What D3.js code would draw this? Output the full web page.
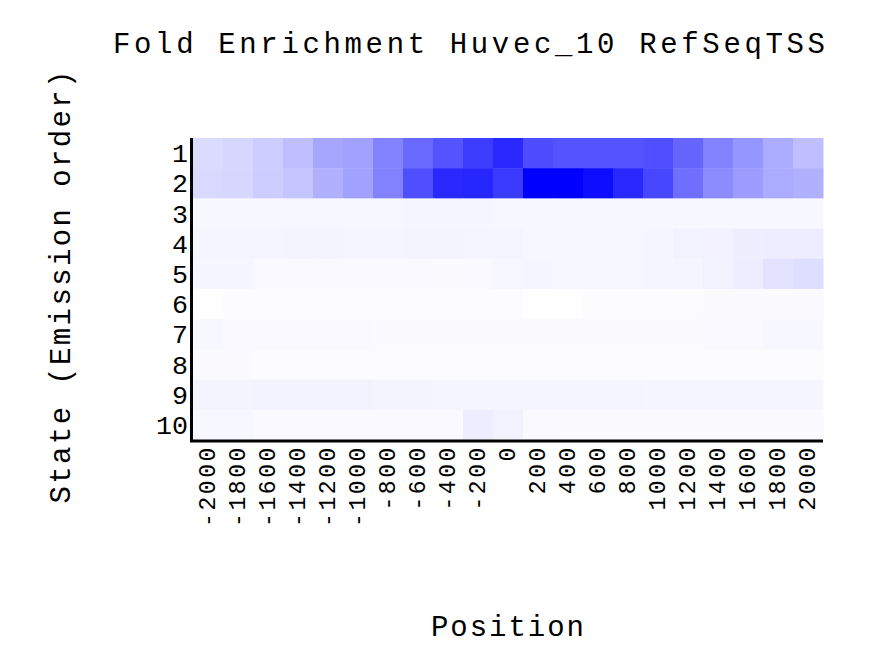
<!DOCTYPE html>
<html>
<head>
<meta charset="utf-8">
<script src="https://cdn.jsdelivr.net/npm/d3@7"></script>
<style>
  html, body { margin: 0; padding: 0; background: #fff; }
  svg { display: block; }
  text { font-family: "Liberation Mono", "DejaVu Sans Mono", monospace; fill: #000; }
</style>
</head>
<body>
<svg id="chart" width="891" height="655"></svg>
<script>
// ---- data ----
const title = "Fold Enrichment Huvec_10 RefSeqTSS";
const xLabel = "Position";
const yLabel = "State (Emission order)";
const positions = [-2000,-1800,-1600,-1400,-1200,-1000,-800,-600,-400,-200,0,200,400,600,800,1000,1200,1400,1600,1800,2000];
const states = [1,2,3,4,5,6,7,8,9,10];
// relative enrichment (0 = white, 100 = full blue), one array per state
const state1  = [14,16,20,25,35,37,49,59,67,76,84,70,67,67,67,69,60,49,41,33,25];
const state2  = [15,16,20,23,31,37,49,69,84,85,77,100,100,95,84,72,57,45,39,33,31];
const state3  = [3,3,3,3,3,3,3,3.5,3.5,3.5,3,3,3,3,3,3,3,3,3,3,3];
const state4  = [4,4,4,4.5,4.5,4,4,4.5,4.5,4,4,3,3,3,3,3.5,5,5.5,6.5,7,7];
const state5  = [3.5,3.5,2.5,2.5,2.5,2.5,2.5,2.5,2,2.5,3,3.5,3,3,3,3.5,4,5,7,11,13];
const state6  = [0.5,1,1,1,1,1,1,1,1,1,1,0.5,0.5,1,1,1,1,1.5,1.5,2,2];
const state7  = [3,2.5,2.5,2.5,2.5,2.5,2,2,2,2,2,1.5,1.5,1.5,1.5,2,2,2.5,2.5,3,3];
const state8  = [1.5,1.5,1,1,1,1,1,1,1,1,1,1,1,1,1,1,1,1,1,1,1];
const state9  = [4.5,4.5,5,5,5,5,4.5,4.5,4,4,4,4,4,4,4,3.5,3.5,3.5,3.5,3.5,3.5];
const state10 = [3,3,2.5,2.5,2.5,2.5,2.5,2.5,2.5,7,5,2.5,2,2,2,2,2,2,2,2,2];
const values = [state1,state2,state3,state4,state5,state6,state7,state8,state9,state10];

// ---- layout ----
const svg = d3.select("#chart");
const mLeft = 193, mRight = 823, mTop = 138, mBottom = 440;

const x = d3.scaleBand().domain(positions).range([mLeft, mRight]).padding(0);
const y = d3.scaleBand().domain(states).range([mTop, mBottom]).padding(0);
const color = d3.scaleLinear().domain([0, 100]).range(["#ffffff", "#0000ff"]);

const cells = [];
values.forEach((row, i) => row.forEach((v, j) => cells.push({s: states[i], p: positions[j], v})));

svg.append("g").selectAll("rect").data(cells).join("rect")
  .attr("x", d => x(d.p))
  .attr("y", d => y(d.s))
  .attr("width", x.bandwidth() + 0.5)
  .attr("height", y.bandwidth() + 0.5)
  .attr("fill", d => color(d.v));

// axes lines
svg.append("line").attr("x1", 191.5).attr("x2", 191.5).attr("y1", mTop).attr("y2", mBottom + 2)
  .attr("stroke", "#000").attr("stroke-width", 3);
svg.append("line").attr("x1", 190).attr("x2", mRight).attr("y1", mBottom + 1).attr("y2", mBottom + 1)
  .attr("stroke", "#000").attr("stroke-width", 3);

// y tick labels
svg.append("g").selectAll("text").data(states).join("text")
  .attr("x", 188)
  .attr("y", d => y(d) + y.bandwidth() / 2 + 9)
  .attr("text-anchor", "end")
  .attr("font-size", 25)
  .attr("textLength", d => String(d).length * 16)
  .attr("lengthAdjust", "spacingAndGlyphs")
  .text(d => d);

// x tick labels (rotated)
svg.append("g").selectAll("text").data(positions).join("text")
  .attr("transform", d => `translate(${x(d) + x.bandwidth() / 2 + 7},445) rotate(-90)`)
  .attr("text-anchor", "end")
  .attr("font-size", 23)
  .attr("letter-spacing", 2.6)
  .text(d => d);

// title
svg.append("text")
  .attr("x", 469).attr("y", 53)
  .attr("text-anchor", "middle")
  .attr("font-size", 29)
  .attr("textLength", 712).attr("lengthAdjust", "spacing")
  .text(title);

// x label
svg.append("text")
  .attr("x", 507.5).attr("y", 636)
  .attr("text-anchor", "middle")
  .attr("font-size", 29)
  .attr("textLength", 153).attr("lengthAdjust", "spacing")
  .text(xLabel);

// y label
svg.append("text")
  .attr("transform", "translate(70,287) rotate(-90)")
  .attr("text-anchor", "middle")
  .attr("font-size", 29)
  .attr("textLength", 433).attr("lengthAdjust", "spacing")
  .text(yLabel);
</script>
</body>
</html>
